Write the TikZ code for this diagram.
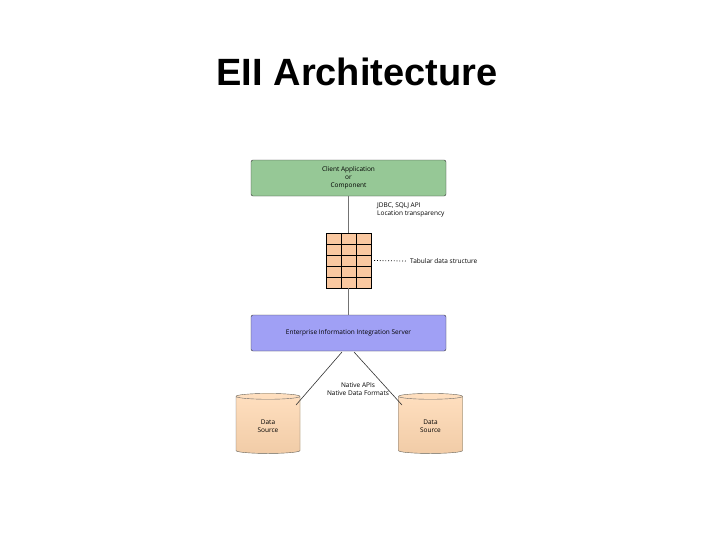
\documentclass[tikz,border=0pt]{standalone}
\usepackage{fontspec}
\setmainfont{Open Sans}
\newfontfamily\titlefont{Liberation Sans}
\usetikzlibrary{shapes.geometric}
\begin{document}
\begin{tikzpicture}[x=1pt,y=-1pt,
  box/.style={draw=black!80,rounded corners=2pt,minimum width=195pt,minimum height=36pt,inner sep=0pt,align=center,font=\fontsize{6.5}{8}\selectfont},
  db/.style={cylinder,shape border rotate=90,aspect=0.28,draw=black!60,fill=orange!40!yellow!60!brown!50,top color=orange!25,bottom color=orange!45!brown!40,minimum width=64pt,minimum height=60pt,inner sep=0pt,align=center,font=\fontsize{6.5}{8}\selectfont},
  lbl/.style={align=center,font=\fontsize{6.5}{8}\selectfont,inner sep=0pt},
  conn/.style={draw=black!55,line width=0.8pt}]
\useasboundingbox (0,0) rectangle (728,546);
\node[font=\titlefont\bfseries\fontsize{38}{40}\selectfont] (title) at (357,72) {EII Architecture};
\node[box,fill=green!45!black!25!white,fill={rgb,255:red,150;green,200;blue,150}] (client) at (348.5,178) {Client Application\\or\\Component};
\node[box,fill={rgb,255:red,160;green,160;blue,245}] (eii) at (348.5,333) {Enterprise Information Integration Server};
\node[draw=black,fill={rgb,255:red,250;green,200;blue,160},minimum width=45pt,minimum height=55pt,inner sep=0pt] (grid) at (348.5,260.5) {};
\foreach \i in {1,2} \draw ([xshift=\i*15pt]grid.north west) -- ([xshift=\i*15pt]grid.south west);
\foreach \j in {1,...,4} \draw ([yshift=-\j*11pt]grid.north west) -- ([yshift=-\j*11pt]grid.north east);
\draw[conn] (client) -- (grid);
\draw[conn] (grid) -- (eii);
\node[lbl,align=left,anchor=west] (api) at (377,210) {JDBC, SQLJ API\\Location transparency};
\node[lbl,anchor=west] (tab) at (410,261) {Tabular data structure};
\draw[dotted,thick] (grid.east) ++(3pt,0) coordinate (d0) -- ([xshift=-4pt]tab.west);
\node[db] (ds1) at (268,425) {\\Data\\Source};
\node[db] (ds2) at (430.5,425) {\\Data\\Source};
\coordinate (e1) at (342,352);
\coordinate (e2) at (354,352);
\draw[black!80,line width=0.6pt] (e1) -- (296,405);
\draw[black!80,line width=0.6pt] (e2) -- (402,405);
\node[lbl] (nat) at (358,389) {Native APIs\\Native Data Formats};
\end{tikzpicture}
\end{document}
